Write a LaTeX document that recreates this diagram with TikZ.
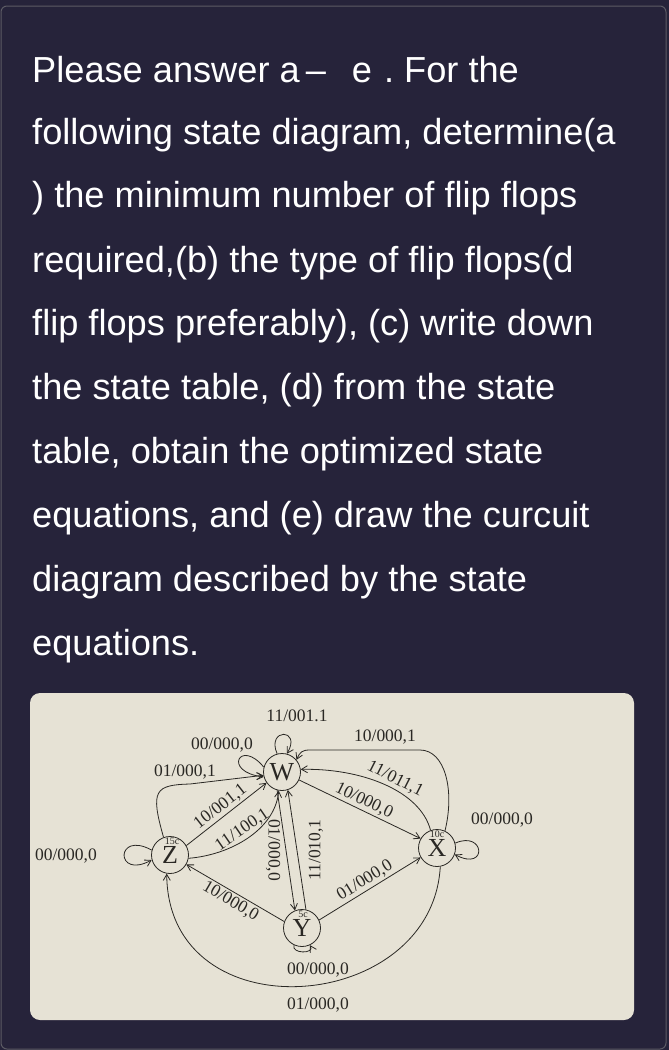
\documentclass[tikz,border=0pt]{standalone}
\usepackage{fontspec}
\setmainfont{Liberation Serif}
\newfontfamily\qfont{Liberation Sans}
\usetikzlibrary{arrows.meta}
\definecolor{bgc}{HTML}{26233A}
\definecolor{paper}{HTML}{E6E2D5}
\definecolor{ink}{HTML}{2A2824}
\begin{document}
\begin{tikzpicture}[x=1pt,y=-1pt,
  qline/.style={anchor=west,text=white,font=\qfont\fontsize{36.2}{36.2}\selectfont,inner sep=0},
  st/.style={circle,draw=ink,line width=0.8pt,minimum size=37pt,inner sep=0,font=\fontsize{26}{26}\selectfont,text=ink},
  sm/.style={font=\fontsize{10}{10}\selectfont,text=ink,inner sep=0},
  lb/.style={font=\fontsize{17.5}{17.5}\selectfont,text=ink,inner sep=2pt},
  ed/.style={draw=ink,line width=0.8pt,-{Straight Barb[length=6pt,width=7pt]}}]
\useasboundingbox (0,0) rectangle (669,1050);
\fill[bgc] (0,0) rectangle (669,1050);
\draw[gray!60!bgc,line width=1pt,rounded corners=6pt] (1,6) rectangle (666,1049);
\fill[paper,rounded corners=10pt] (30,693) rectangle (634,1020);
\foreach \y/\t in {70/{Please answer a\,–\hspace{26pt}e\hspace{12pt}.\ For the},
  135/{following state diagram, determine(a},
  198/{) the minimum number of flip flops},
  263/{required,(b) the type of flip flops(d},
  326/{flip flops preferably), (c) write down},
  390/{the state table, (d) from the state},
  454/{table, obtain the optimized state},
  518/{equations, and (e) draw the curcuit},
  582/{diagram described by the state},
  646/{equations.}}
  \node[qline] at (32,\y) {\t};
\node[st] (W) at (282,772) {W};
\node[st] (Z) at (170,855) {Z};
\node[st] (Y) at (302,928) {Y};
\node[st] (X) at (437,848) {X};
\node[sm] at (172,841) {15c};
\node[sm] at (303,914) {5c};
\node[sm] at (437,834) {10c};
% W loops
\draw[ed] (W.105) .. controls (266,728) and (302,728) .. (W.75);
\node[lb] (l1) at (297,716) {11/001.1};
\draw[ed] (W.165) .. controls (240,738) and (222,772) .. (W.195);
\node[lb] (l2) at (222,745) {00/000,0};
% Z->W
\draw[ed] (Z.110) .. controls (150,790) and (155,785) .. (190,784) -- (W.190);
\node[lb] at (185,772) {01/000,1};
\draw[ed] (Z.30) -- (W.215) node[lb,midway,above,sloped] {10/001,1};
\draw[ed] (Z.-10) .. controls (230,855) and (275,830) .. (W.260) node[lb,pos=0.5,above,sloped] {11/100,1};
% Z loop
\draw[ed] (Z.165) .. controls (115,830) and (115,880) .. (Z.195);
\node[lb] at (66,856) {00/000,0};
% Y->Z
\draw[ed] (Y.160) -- (Z.-30) node[lb,midway,below,sloped] {10/000,0};
% W<->Y
\draw[ed] (W.-105) -- (Y.112);
\draw[ed] (Y.78) -- (W.-72);
\node[lb,rotate=-90] at (273,850) {01/000,0};
\node[lb,rotate=90] at (316,850) {11/010,1};
% Y loop
\draw[ed] (Y.-115) .. controls (291,954) and (315,954) .. (Y.-65);
\node[lb] at (318,970) {00/000,0};
% Y->X
\draw[ed] (Y.25) -- (X.210) node[lb,midway,above,sloped] {01/000,0};
% W->X
\draw[ed] (W.-25) -- (X.150) node[lb,midway,above,sloped] {10/000,0};
% X->W
\draw[ed] (X.110) .. controls (420,790) and (360,768) .. (W.8) node[lb,pos=0.45,above,sloped] {11/011,1};
\draw[ed] (X.65) .. controls (455,790) and (445,750) .. (420,750) -- (310,750) .. controls (302,750) and (300,752) .. (W.40);
\node[lb] at (385,737) {10/000,1};
% X loop
\draw[ed] (X.15) .. controls (485,830) and (488,872) .. (X.-20);
\node[lb] at (502,820) {00/000,0};
% X->Z big arc
\draw[ed] (X.-80) .. controls (432,1015) and (168,1035) .. (Z.-100);
\node[lb] at (318,1005) {01/000,0};
\end{tikzpicture}
\end{document}
